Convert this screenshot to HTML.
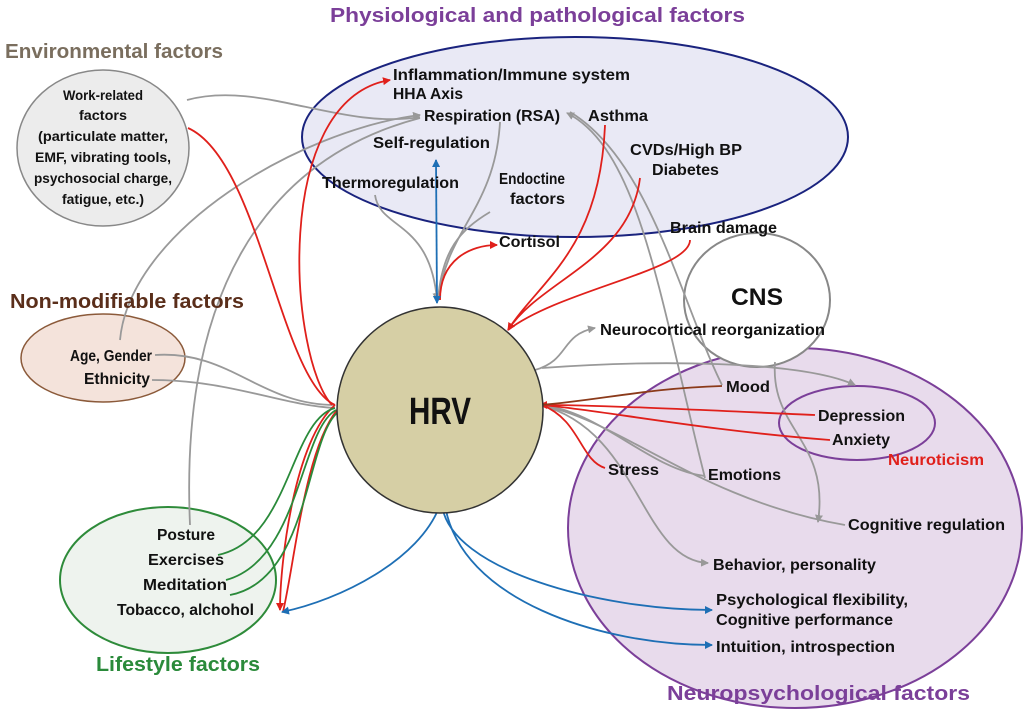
<!DOCTYPE html>
<html><head><meta charset="utf-8"><style>
html,body{margin:0;padding:0;background:#fff;}
svg{display:block;}
text{font-family:"Liberation Sans Narrow","Liberation Sans",sans-serif;font-weight:bold;font-size:16px;fill:#111;}
.t{font-size:20px;}
</style></head><body>
<svg width="1024" height="710" viewBox="0 0 1024 710" xmlns="http://www.w3.org/2000/svg">
<defs>
<marker id="ar" markerWidth="8" markerHeight="8" refX="7" refY="4" orient="auto" markerUnits="userSpaceOnUse"><path d="M0,0 L8,4 L0,8 Z" fill="#e0201b"/></marker>
<marker id="ag" markerWidth="8" markerHeight="8" refX="7" refY="4" orient="auto" markerUnits="userSpaceOnUse"><path d="M0,0 L8,4 L0,8 Z" fill="#999"/></marker>
<marker id="ab" markerWidth="8" markerHeight="8" refX="7" refY="4" orient="auto" markerUnits="userSpaceOnUse"><path d="M0,0 L8,4 L0,8 Z" fill="#1e6fb5"/></marker>
<marker id="abs" markerWidth="8" markerHeight="8" refX="1" refY="4" orient="auto" markerUnits="userSpaceOnUse"><path d="M8,0 L0,4 L8,8 Z" fill="#1e6fb5"/></marker>
</defs>

<!-- ellipses -->
<ellipse cx="575" cy="137" rx="273" ry="100" fill="#e9e9f5" stroke="#1a237e" stroke-width="2"/>
<ellipse cx="103" cy="148" rx="86" ry="78" fill="#ececec" stroke="#888" stroke-width="1.5"/>
<ellipse cx="103" cy="358" rx="82" ry="44" fill="#f4e3db" stroke="#8b5a3a" stroke-width="1.5"/>
<ellipse cx="795" cy="528" rx="227" ry="180" fill="#e8dbec" stroke="#7b3f99" stroke-width="2"/>
<ellipse cx="757" cy="300" rx="73" ry="67" fill="#fff" stroke="#888" stroke-width="2"/>
<ellipse cx="857" cy="423" rx="78" ry="37" fill="none" stroke="#7b3f99" stroke-width="2"/>
<ellipse cx="168" cy="580" rx="108" ry="73" fill="#eef3ee" stroke="#2e8b3a" stroke-width="2"/>

<g fill="none" stroke-width="1.8">
<!-- gray -->
<g stroke="#999">
<path d="M120,340 C130,230 300,130 420,115" marker-end="url(#ag)"/>
<path d="M187,100 C260,80 340,130 420,117"/>
<path d="M190,525 C180,300 260,160 420,118"/>
<path d="M155,355 C230,350 260,405 335,405"/>
<path d="M152,380 C230,380 280,405 335,408"/>
<path d="M375,195 C380,230 430,220 437,300" marker-end="url(#ag)"/>
<path d="M500,122 C495,210 445,230 439,300"/>
<path d="M490,212 C460,230 442,250 438,300"/>
<path d="M535,370 C570,360 560,335 595,328" marker-end="url(#ag)"/>
<path d="M542,368 C650,360 800,360 855,385" marker-end="url(#ag)"/>
<path d="M705,478 C660,300 640,150 567,113" marker-end="url(#ag)"/>
<path d="M722,385 C680,300 650,160 570,112"/>
<path d="M540,405 C600,410 650,470 705,476"/>
<path d="M540,405 C620,420 700,500 845,525"/>
<path d="M540,405 C640,430 640,560 708,563" marker-end="url(#ag)"/>
<path d="M775,362 C770,430 830,440 818,522" marker-end="url(#ag)"/>
</g>
<!-- red -->
<g stroke="#e0201b">
<path d="M332,405 C290,360 270,100 390,80" marker-end="url(#ar)"/>
<path d="M188,128 C260,160 280,380 335,405"/>
<path d="M440,300 C440,260 470,245 497,245" marker-end="url(#ar)"/>
<path d="M605,125 C600,250 540,280 508,330" marker-end="url(#ar)"/>
<path d="M640,178 C630,260 540,280 508,330"/>
<path d="M690,240 C690,270 560,290 508,330"/>
<path d="M335,405 C295,440 280,560 280,610" marker-end="url(#ar)"/>
<path d="M337,410 C305,450 295,560 283,612"/>
<path d="M815,415 C700,410 600,405 540,405" marker-end="url(#ar)"/>
<path d="M830,440 C700,430 600,410 542,405"/>
<path d="M605,468 C580,460 580,420 542,405"/>
</g>
<!-- brown -->
<path d="M722,386 C650,388 600,400 541,405" stroke="#8b3a1a"/>
<!-- green -->
<g stroke="#2a8a3a">
<path d="M218,555 C290,540 290,420 335,408"/>
<path d="M226,580 C300,560 300,430 336,410"/>
<path d="M230,595 C310,580 305,440 338,412"/>
</g>
<!-- blue -->
<g stroke="#1e6fb5">
<path d="M437,303 L436,160" marker-start="url(#abs)" marker-end="url(#ab)"/>
<path d="M440,505 C420,560 340,600 282,612" marker-end="url(#ab)"/>
<path d="M442,505 C450,570 600,610 712,610" marker-end="url(#ab)"/>
<path d="M445,505 C460,600 600,645 712,645" marker-end="url(#ab)"/>
</g>
</g>

<circle cx="440" cy="410" r="103" fill="#d6cfa5" stroke="#333" stroke-width="1.5"/>
<text x="440" y="424" text-anchor="middle" style="font-size:38px" textLength="62" lengthAdjust="spacingAndGlyphs">HRV</text>
<text x="757" y="305" text-anchor="middle" style="font-size:24px" textLength="52" lengthAdjust="spacingAndGlyphs">CNS</text>

<!-- titles -->
<text class="t" x="330" y="22" fill="#7b3f99" style="fill:#7b3f99" textLength="415" lengthAdjust="spacingAndGlyphs">Physiological and pathological factors</text>
<text class="t" x="5" y="58" style="fill:#7a6e5e" textLength="218" lengthAdjust="spacingAndGlyphs">Environmental factors</text>
<text class="t" x="10" y="308" style="fill:#5a2e1a" textLength="234" lengthAdjust="spacingAndGlyphs">Non-modifiable factors</text>
<text class="t" x="96" y="671" style="fill:#2a8a3a" textLength="164" lengthAdjust="spacingAndGlyphs">Lifestyle factors</text>
<text class="t" x="667" y="700" style="fill:#7b3f99" textLength="303" lengthAdjust="spacingAndGlyphs">Neuropsychological factors</text>

<g lengthAdjust="spacingAndGlyphs">
<text x="393" y="80" textLength="237" lengthAdjust="spacingAndGlyphs">Inflammation/Immune system</text>
<text x="393" y="99" textLength="70" lengthAdjust="spacingAndGlyphs">HHA Axis</text>
<text x="424" y="121" textLength="136" lengthAdjust="spacingAndGlyphs">Respiration (RSA)</text>
<text x="588" y="121" textLength="60" lengthAdjust="spacingAndGlyphs">Asthma</text>
<text x="373" y="148" textLength="117" lengthAdjust="spacingAndGlyphs">Self-regulation</text>
<text x="630" y="155" textLength="112" lengthAdjust="spacingAndGlyphs">CVDs/High BP</text>
<text x="652" y="175" textLength="67" lengthAdjust="spacingAndGlyphs">Diabetes</text>
<text x="322" y="188" textLength="137" lengthAdjust="spacingAndGlyphs">Thermoregulation</text>
<text x="499" y="184" textLength="66" lengthAdjust="spacingAndGlyphs">Endoctine</text>
<text x="510" y="204" textLength="55" lengthAdjust="spacingAndGlyphs">factors</text>
<text x="670" y="233" textLength="107" lengthAdjust="spacingAndGlyphs">Brain damage</text>
<text x="499" y="247" textLength="61" lengthAdjust="spacingAndGlyphs">Cortisol</text>

<text x="103" y="100" text-anchor="middle" style="font-size:14px" textLength="80" lengthAdjust="spacingAndGlyphs">Work-related</text>
<text x="103" y="120" text-anchor="middle" style="font-size:14px" textLength="48" lengthAdjust="spacingAndGlyphs">factors</text>
<text x="103" y="141" text-anchor="middle" style="font-size:14px" textLength="130" lengthAdjust="spacingAndGlyphs">(particulate matter,</text>
<text x="103" y="162" text-anchor="middle" style="font-size:14px" textLength="136" lengthAdjust="spacingAndGlyphs">EMF, vibrating tools,</text>
<text x="103" y="183" text-anchor="middle" style="font-size:14px" textLength="138" lengthAdjust="spacingAndGlyphs">psychosocial charge,</text>
<text x="103" y="204" text-anchor="middle" style="font-size:14px" textLength="82" lengthAdjust="spacingAndGlyphs">fatigue, etc.)</text>

<text x="70" y="361" textLength="82" lengthAdjust="spacingAndGlyphs">Age, Gender</text>
<text x="84" y="384" textLength="66" lengthAdjust="spacingAndGlyphs">Ethnicity</text>

<text x="600" y="335" textLength="225" lengthAdjust="spacingAndGlyphs">Neurocortical reorganization</text>
<text x="726" y="392" textLength="44" lengthAdjust="spacingAndGlyphs">Mood</text>
<text x="818" y="421" textLength="87" lengthAdjust="spacingAndGlyphs">Depression</text>
<text x="832" y="445" textLength="58" lengthAdjust="spacingAndGlyphs">Anxiety</text>
<text x="888" y="465" style="fill:#e0201b" textLength="96" lengthAdjust="spacingAndGlyphs">Neuroticism</text>
<text x="608" y="475" textLength="51" lengthAdjust="spacingAndGlyphs">Stress</text>
<text x="708" y="480" textLength="73" lengthAdjust="spacingAndGlyphs">Emotions</text>
<text x="848" y="530" textLength="157" lengthAdjust="spacingAndGlyphs">Cognitive regulation</text>
<text x="713" y="570" textLength="163" lengthAdjust="spacingAndGlyphs">Behavior, personality</text>
<text x="716" y="605" textLength="192" lengthAdjust="spacingAndGlyphs">Psychological flexibility,</text>
<text x="716" y="625" textLength="177" lengthAdjust="spacingAndGlyphs">Cognitive performance</text>
<text x="716" y="652" textLength="179" lengthAdjust="spacingAndGlyphs">Intuition, introspection</text>

<text x="157" y="540" textLength="58" lengthAdjust="spacingAndGlyphs">Posture</text>
<text x="148" y="565" textLength="76" lengthAdjust="spacingAndGlyphs">Exercises</text>
<text x="143" y="590" textLength="84" lengthAdjust="spacingAndGlyphs">Meditation</text>
<text x="117" y="615" textLength="137" lengthAdjust="spacingAndGlyphs">Tobacco, alchohol</text>
</g>
</svg>
</body></html>
